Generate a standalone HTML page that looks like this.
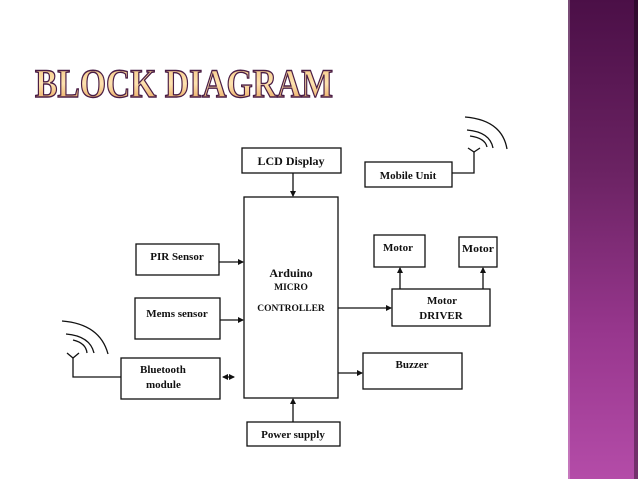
<!DOCTYPE html>
<html><head><meta charset="utf-8"><style>
html,body{margin:0;padding:0;background:#fff;}
body{width:638px;height:479px;position:relative;overflow:hidden;}
#side{position:absolute;left:568px;top:0;width:70px;height:479px;background:linear-gradient(to bottom,#4b0f47 0%,#6a2262 35%,#98378e 70%,#b44ca8 100%);}
#side:after{content:"";position:absolute;right:0;top:0;width:4px;height:100%;background:rgba(0,0,0,0.35);}
#side:before{content:"";position:absolute;left:0;top:0;width:2px;height:100%;background:rgba(255,255,255,0.25);}
svg{position:absolute;left:0;top:0;}
text{font-family:"Liberation Serif",serif;font-weight:bold;fill:#111;}
</style></head><body>
<div id="side"></div>
<svg width="638" height="479" viewBox="0 0 638 479">
<defs>
<linearGradient id="tg" x1="0" y1="0" x2="0" y2="1">
<stop offset="0" stop-color="#f3c27a"/><stop offset="0.5" stop-color="#fde2b0"/><stop offset="1" stop-color="#e59a4a"/>
</linearGradient>
<marker id="ar" markerWidth="6" markerHeight="6" refX="5" refY="3" orient="auto-start-reverse" markerUnits="userSpaceOnUse"><path d="M0,0 L6,3 L0,6 z" fill="#111"/></marker>
</defs>
<text x="35" y="97" font-size="40" textLength="298" lengthAdjust="spacingAndGlyphs" style="fill:url(#tg);stroke:#4a1d45;stroke-width:1.4">BLOCK DIAGRAM</text>
<g fill="none" stroke="#111" stroke-width="1.3">
<rect x="242" y="148" width="99" height="25"/>
<rect x="365" y="162" width="87" height="25"/>
<rect x="244" y="197" width="94" height="201"/>
<rect x="374" y="235" width="51" height="32"/>
<rect x="459" y="237" width="38" height="30"/>
<rect x="392" y="289" width="98" height="37"/>
<rect x="363" y="353" width="99" height="36"/>
<rect x="247" y="422" width="93" height="24"/>
<rect x="136" y="244" width="83" height="31"/>
<rect x="135" y="298" width="85" height="41"/>
<rect x="121" y="358" width="99" height="41"/>
<line x1="293" y1="173" x2="293" y2="196" marker-end="url(#ar)"/>
<line x1="219" y1="262" x2="243" y2="262" marker-end="url(#ar)"/>
<line x1="220" y1="320" x2="243" y2="320" marker-end="url(#ar)"/>
<line x1="338" y1="308" x2="391" y2="308" marker-end="url(#ar)"/>
<line x1="400" y1="289" x2="400" y2="268" marker-end="url(#ar)"/>
<line x1="483" y1="289" x2="483" y2="268" marker-end="url(#ar)"/>
<line x1="338" y1="373" x2="362" y2="373" marker-end="url(#ar)"/>
<line x1="293" y1="422" x2="293" y2="399" marker-end="url(#ar)"/>
<line x1="223" y1="377" x2="234" y2="377" marker-end="url(#ar)" marker-start="url(#ar)"/>
<polyline points="121,377 73,377 73,358"/>
<polyline points="67,353 73,358 79,353"/>
<path d="M62,321 Q100,324 108,354"/>
<path d="M66,334 Q90,336 94,353"/>
<path d="M73,340 Q86,343 87,353"/>
<polyline points="452,173 474,173 474,152"/>
<polyline points="468,148 474,152 480,148"/>
<path d="M465,117 Q502,120 507,149"/>
<path d="M467,130 Q490,132 493,148"/>
<path d="M470,136 Q485,138 487,147"/>
</g>
<text x="291" y="165" font-size="12" text-anchor="middle">LCD Display</text>
<text x="408" y="179" font-size="11" text-anchor="middle">Mobile Unit</text>
<text x="177" y="260" font-size="11" text-anchor="middle">PIR Sensor</text>
<text x="177" y="317" font-size="11" text-anchor="middle">Mems sensor</text>
<text x="140" y="373" font-size="11">Bluetooth</text>
<text x="146" y="388" font-size="11">module</text>
<text x="291" y="277" font-size="12" text-anchor="middle">Arduino</text>
<text x="291" y="290" font-size="9.5" text-anchor="middle">MICRO</text>
<text x="291" y="311" font-size="9.5" text-anchor="middle">CONTROLLER</text>
<text x="398" y="251" font-size="11" text-anchor="middle">Motor</text>
<text x="478" y="252" font-size="11" text-anchor="middle" textLength="32" lengthAdjust="spacingAndGlyphs">Motor</text>
<text x="442" y="304" font-size="11" text-anchor="middle">Motor</text>
<text x="441" y="319" font-size="11" text-anchor="middle">DRIVER</text>
<text x="412" y="368" font-size="11" text-anchor="middle">Buzzer</text>
<text x="293" y="438" font-size="11" text-anchor="middle">Power supply</text>
</svg>
</body></html>
